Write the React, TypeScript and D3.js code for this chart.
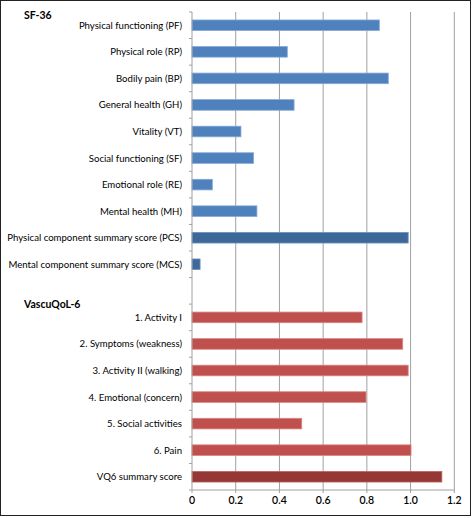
import React from "react";
import * as d3 from "d3";

const sf36Labels = [
  "Physical functioning (PF)",
  "Physical role (RP)",
  "Bodily pain (BP)",
  "General health (GH)",
  "Vitality (VT)",
  "Social functioning (SF)",
  "Emotional role (RE)",
  "Mental health (MH)",
  "Physical component summary score (PCS)",
  "Mental component summary score (MCS)",
];
const sf36Values = [0.857, 0.436, 0.898, 0.467, 0.224, 0.282, 0.093, 0.297, 0.989, 0.037];

const vascuLabels = [
  "1. Activity I",
  "2. Symptoms (weakness)",
  "3. Activity II (walking)",
  "4. Emotional (concern)",
  "5. Social activities",
  "6. Pain",
  "VQ6 summary score",
];
const vascuValues = [0.778, 0.964, 0.989, 0.796, 0.502, 1.002, 1.143];

const groupTitles = ["SF-36", "VascuQoL-6"];
const summaryLabels = [
  "Physical component summary score (PCS)",
  "Mental component summary score (MCS)",
  "VQ6 summary score",
];
const xTicks = [0, 0.2, 0.4, 0.6, 0.8, 1.0, 1.2];

const GAP = "__gap__";
const W = 473;
const H = 518;
const FONT = "Lato, 'Open Sans', sans-serif";

export default function App() {
  const domain = [...sf36Labels, GAP, ...vascuLabels];
  const x = d3.scaleLinear().domain([0, 1.2]).range([192, 454.3]);
  const y = d3.scaleBand<string>().domain(domain).range([12, 490]).padding(0);
  const bw = y.bandwidth();
  const barH = bw * 0.4;

  const rows = [
    ...sf36Labels.map((l, i) => ({ label: l, value: sf36Values[i], group: 0 })),
    ...vascuLabels.map((l, i) => ({ label: l, value: vascuValues[i], group: 1 })),
  ];

  const colors = [
    { fill: "#4f81bd", stroke: "#86aad8", sumFill: "#3c6999", sumStroke: "#6d92be" },
    { fill: "#c0504d", stroke: "#da8583", sumFill: "#953735", sumStroke: "#b86563" },
  ];

  const boundaries = d3.range(domain.length + 1).map((i) => 12 + i * bw);
  const titleY = [y(sf36Labels[0])! + 7, y(vascuLabels[0])! + 4];

  return (
    <svg
      width={W}
      height={H}
      style={{ position: "absolute", left: 0, top: 0, background: "#fff" }}
      fontFamily={FONT}
    >
      <rect x={0.5} y={0.5} width={470} height={515} fill="#fff" stroke="#222" strokeWidth={1} />
      {xTicks.slice(1).map((t) => (
        <line
          key={"g" + t}
          x1={x(t)}
          x2={x(t)}
          y1={12}
          y2={493}
          stroke="#a0a0a0"
          strokeWidth={1}
        />
      ))}
      {rows.map((r) => {
        const c = colors[r.group];
        const isSum = summaryLabels.includes(r.label);
        return (
          <rect
            key={r.label}
            x={x(0)}
            y={y(r.label)! + (bw - barH) / 2}
            width={x(r.value) - x(0)}
            height={barH}
            fill={isSum ? c.sumFill : c.fill}
            stroke={isSum ? c.sumStroke : c.stroke}
            strokeWidth={0.8}
          />
        );
      })}
      <line x1={x(0)} x2={x(0)} y1={12} y2={490} stroke="#a0a0a0" strokeWidth={1} />
      {boundaries.map((b, i) => (
        <line key={"t" + i} x1={x(0) - 3} x2={x(0)} y1={b} y2={b} stroke="#a0a0a0" strokeWidth={1} />
      ))}
      <line x1={x(0)} x2={x(1.2)} y1={490} y2={490} stroke="#a0a0a0" strokeWidth={1} />
      <line x1={x(0)} x2={x(0)} y1={490} y2={493} stroke="#a0a0a0" strokeWidth={1} />
      {xTicks.map((t) => (
        <text
          key={"xl" + t}
          x={x(t)}
          y={504}
          textAnchor="middle"
          fontSize={10.5}
          fontWeight={600}
          fill="#000"
        >
          {t === 0 ? "0" : t.toFixed(1)}
        </text>
      ))}
      {rows.map((r) => (
        <text
          key={"l" + r.label}
          x={182}
          y={y(r.label)! + bw / 2 + 3.5}
          textAnchor="end"
          fontSize={9.6}
          fill="#000"
        >
          {r.label}
        </text>
      ))}
      {groupTitles.map((g, i) => (
        <text key={g} x={24} y={titleY[i]} fontSize={10.5} fontWeight="bold" fill="#000">
          {g}
        </text>
      ))}
    </svg>
  );
}
